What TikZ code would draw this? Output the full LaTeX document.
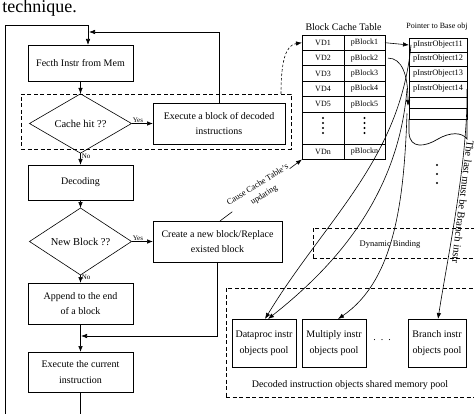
\documentclass[tikz,border=0pt]{standalone}
\usepackage{fontspec}
\setmainfont{Liberation Serif}
\usetikzlibrary{shapes.geometric,arrows.meta}
\begin{document}
\begin{tikzpicture}[x=1pt,y=-1pt,
  box/.style={draw, line width=0.6pt, align=center, font=\fontsize{10}{15.5}\selectfont, inner sep=0pt, outer sep=0pt},
  dia/.style={draw, diamond, line width=0.6pt, inner sep=0pt, outer sep=0pt, minimum width=102pt, minimum height=40pt, font=\fontsize{10.5}{12}\selectfont},
  cell/.style={draw, line width=0.6pt, inner sep=0pt, outer sep=0pt, font=\fontsize{8}{9}\selectfont},
  vcell/.style={cell, minimum width=42pt, minimum height=15.4pt},
  bcell/.style={cell, minimum width=41pt, minimum height=15.4pt},
  pcell/.style={cell, minimum width=58pt, font=\fontsize{8.3}{9}\selectfont},
  dbox/.style={draw, line width=0.6pt, dash pattern=on 4pt off 2.5pt, inner sep=0pt, outer sep=0pt},
  arr/.style={-{Latex[length=6pt,width=4.5pt]}, line width=0.6pt},
  ln/.style={line width=0.6pt},
  lbl/.style={font=\fontsize{7}{8}\selectfont, inner sep=1pt},
  pool/.style={box, minimum height=48pt, font=\fontsize{10}{16}\selectfont},
]
\useasboundingbox (0,0) rectangle (474,414);

% top text
\node[anchor=base east, font=\fontsize{18}{20}\selectfont, inner sep=0pt] (tech) at (77,13) {technique.};

% flowchart
\node[box, minimum width=105pt, minimum height=36pt] (fetch) at (80.5,63) {Fecth Instr from Mem};
\node[dbox, minimum width=270pt, minimum height=55pt] (grp) at (156,121.5) {};
\node[dia] (hit) at (80.5,123.5) {Cache hit ??};
\node[box, minimum width=132pt, minimum height=41pt] (exblk) at (219,123.5) {Execute a block of decoded\\instructions};
\node[box, minimum width=105pt, minimum height=35pt] (dec) at (80.5,182.5) {Decoding};
\node[dia, minimum height=39pt] (newb) at (80.5,241.5) {New Block ??};
\node[box, minimum width=129pt, minimum height=41pt] (create) at (217.5,241.5) {Create a new block/Replace\\existed block};
\node[box, minimum width=105pt, minimum height=41pt] (append) at (80.5,303.5) {Append to the end\\of a block};
\node[box, minimum width=105pt, minimum height=40pt] (excur) at (80.5,372) {Execute the current\\instruction};

\coordinate (bl) at (5,414);
\coordinate (bm) at (80.5,414);
\coordinate (top1) at (88,25);
\coordinate (j1) at (89,32);
\coordinate (j2) at (81,336);

\draw[arr] (fetch.south) -- (hit.north);
\draw[arr] (hit.east) -- node[lbl, above, pos=0.3] {Yes} (exblk.west);
\draw[arr] (hit.south) -- node[lbl, right, pos=0.3] {No} (dec.north);
\draw[arr] (dec.south) -- (newb.north);
\draw[arr] (newb.east) -- node[lbl, above, pos=0.3] {Yes} (create.west);
\draw[arr] (newb.south) -- node[lbl, right, pos=0.27] {No} (append.north);
\draw[arr] (append.south) -- (excur.north);
\draw[arr] (create.south) |- (j2);
\draw[ln] (excur.south) -- (bm);
\draw[arr] (bl) |- (top1) -- ([xshift=7.5pt]fetch.north);
\draw[arr] (exblk.north) |- (j1);

% Block cache table
\node[anchor=base, font=\fontsize{10}{11}\selectfont, inner sep=0pt] (bct) at (343.5,31) {Block Cache Table};
\node[vcell] (vd1) at (323,42.7) {VD1};
\node[bcell] (pb1) at (364.5,42.7) {pBlock1};
\node[vcell] (vd2) at (323,58.1) {VD2};
\node[bcell] (pb2) at (364.5,58.1) {pBlock2};
\node[vcell] (vd3) at (323,73.5) {VD3};
\node[bcell] (pb3) at (364.5,73.5) {pBlock3};
\node[vcell] (vd4) at (323,88.9) {VD4};
\node[bcell] (pb4) at (364.5,88.9) {pBlock4};
\node[vcell] (vd5) at (323,104.3) {VD5};
\node[bcell] (pb5) at (364.5,104.3) {pBlock5};
\node[vcell, minimum height=32pt] (vdd) at (323,128) {};
\node[bcell, minimum height=32pt] (pbd) at (364.5,128) {};
\node[vcell] (vdn) at (323,151.7) {VDn};
\node[bcell] (pbn) at (364.5,151.7) {pBlockn};
\foreach \yy in {118,123,128,133}{
  \fill (vdd.center |- 0,\yy) circle (1.1pt);
  \fill (pbd.center |- 0,\yy) circle (1.1pt);
}

% pointer column
\node[anchor=base, font=\fontsize{8}{9}\selectfont, inner sep=0pt] (ptitle) at (437,29) {Pointer to Base obj};
\node[pcell, minimum height=14pt] (p11) at (438,45) {pInstrObject11};
\node[pcell, minimum height=14pt] (p12) at (438,59) {pInstrObject12};
\node[pcell, minimum height=15pt] (p13) at (438,73.5) {pInstrObject13};
\node[pcell, minimum height=16pt] (p14) at (438,89) {pInstrObject14};
\node[pcell, minimum height=11pt] (e1) at (438,102.5) {};
\node[pcell, minimum height=11pt] (e2) at (438,113.5) {};
\draw[line width=0.7pt] (409,119) -- (409,133) .. controls (410,149) and (425,147) .. (438,139)
   .. controls (450,132) and (462,132) .. (467,139) -- (467,119);
\foreach \yy in {165,174,183}{ \fill (437,\yy) circle (1.1pt); }

\coordinate (pb2end) at (408,106);
\draw[arr] (pb1.east) -- (p11.west);
\draw[arr] ([xshift=3pt]pb2.east) .. controls (402,58) and (408,75) .. (pb2end);
\draw[arr, dash pattern=on 2.5pt off 2pt] ([xshift=125pt]grp.north) .. controls (281,60) and (286,45) .. (vd1.west);
\draw[arr] ([xshift=2.5pt]create.north) -- node[pos=0.5, rotate=32, fill=white, inner sep=0.3pt, align=center, font=\fontsize{8.5}{12}\selectfont] (cause) {Cause Cache Table’s\\updating} (vdn.south west);

% dynamic binding
\node[dbox, minimum width=170pt, minimum height=30pt] (dyn) at (398,243) {};
\node[font=\fontsize{8.5}{10}\selectfont, inner sep=0pt] (dyntxt) at (390,244) {Dynamic Binding};

% pools
\node[dbox, minimum width=254pt, minimum height=109pt] (poolbox) at (353,342.5) {};
\node[pool, minimum width=64pt] (dp) at (264,343) {Dataproc instr\\objects pool};
\node[pool, minimum width=64pt] (mul) at (334,343) {Multiply instr\\objects pool};
\node[pool, minimum width=58pt] (br) at (437,343) {Branch instr\\objects pool};
\node[font=\fontsize{10}{12}\selectfont, inner sep=0pt] (pdots) at (382,340) {.\ \ .\ \ .};
\node[font=\fontsize{10}{12}\selectfont, inner sep=0pt] (plabel) at (350,385) {Decoded instruction objects shared memory pool};

% binding curves
\draw[arr] ([xshift=2pt]p11.west) .. controls (400,160) and (325,220) .. ([xshift=1pt]dp.north);
\draw[arr] ([xshift=-2pt]p14.west) .. controls (398,200) and (330,270) .. ([xshift=4pt]dp.north);
\draw[arr] ([xshift=-2pt]e2.west) .. controls (404,200) and (395,280) .. ([xshift=4pt]mul.north);
\draw[arr] (p14.east) .. controls (468,160) and (448,255) .. ([xshift=1pt]br.north);
\node[rotate=-97, font=\fontsize{10.5}{12}\selectfont, inner sep=0pt] (lastlbl) at (463,202) {The last must be Branch instr};
\end{tikzpicture}
\end{document}
